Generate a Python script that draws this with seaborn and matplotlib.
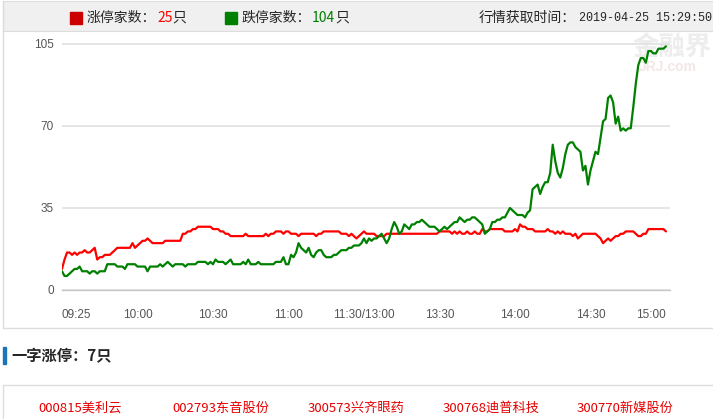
# ==========================================
# 涨跌停家数 intraday chart (screenshot recreation)
# ==========================================

import numpy as np
import pandas as pd
import matplotlib
matplotlib.use("Agg")
import matplotlib.pyplot as plt
import seaborn as sns
from matplotlib.patches import Rectangle

# ==========================================
# Data
# ==========================================

tick_pos = [0, 30, 60, 90, 120, 150, 180, 210, 240]
tick_labels = ["09:25", "10:00", "10:30", "11:00", "11:30/13:00",
               "13:30", "14:00", "14:30", "15:00"]
y_ticks = [0, 35, 70, 105]

# limit-up count, one value per trading minute
limit_up = [
    9, 13, 16, 16, 15, 16, 15, 16, 16, 17,
    16, 16, 17, 18, 13, 14, 14, 15, 15, 15,
    16, 17, 18, 18, 18, 18, 18, 18, 20, 18,
    19, 20, 21, 21, 22, 21, 20, 20, 20, 20,
    20, 21, 21, 21, 21, 21, 21, 21, 24, 24,
    25, 25, 26, 26, 27, 27, 27, 27, 27, 27,
    26, 26, 26, 25, 25, 24, 24, 23, 23, 23,
    23, 23, 23, 24, 23, 23, 23, 23, 23, 23,
    23, 24, 23, 24, 24, 25, 25, 25, 24, 25,
    25, 24, 24, 24, 23, 24, 24, 24, 24, 24,
    24, 23, 24, 24, 25, 25, 25, 25, 25, 25,
    25, 24, 24, 24, 23, 24, 23, 22, 23, 24,
    25, 24, 24, 24, 24, 23, 23, 23, 23, 24,
    24, 24, 24, 24, 24, 24, 24, 24, 24, 24,
    24, 24, 24, 24, 24, 24, 24, 24, 24, 24,
    25, 25, 25, 25, 25, 24, 25, 24, 25, 24,
    24, 25, 24, 24, 25, 24, 24, 26, 25, 25,
    26, 26, 26, 26, 26, 26, 25, 25, 25, 25,
    26, 25, 28, 27, 27, 26, 26, 26, 25, 25,
    25, 25, 25, 26, 25, 25, 24, 25, 24, 25,
    24, 24, 24, 23, 24, 22, 23, 24, 24, 24,
    24, 24, 24, 23, 22, 20, 21, 22, 21, 22,
    23, 23, 24, 24, 25, 25, 25, 25, 24, 23,
    23, 24, 24, 26, 26, 26, 26, 26, 26, 26,
    25,
]

# limit-down count, one value per trading minute
limit_down = [
    8, 6, 6, 7, 8, 9, 9, 10, 8, 8,
    8, 7, 8, 8, 7, 8, 8, 8, 11, 11,
    11, 11, 10, 10, 10, 9, 11, 11, 11, 11,
    10, 10, 10, 10, 8, 10, 10, 10, 10, 11,
    10, 11, 12, 11, 10, 11, 11, 11, 11, 10,
    11, 11, 11, 11, 12, 12, 12, 12, 11, 12,
    11, 13, 12, 12, 12, 11, 12, 13, 11, 11,
    11, 11, 12, 11, 13, 11, 11, 11, 12, 11,
    11, 11, 11, 11, 11, 12, 12, 12, 14, 11,
    11, 15, 14, 16, 20, 18, 17, 16, 18, 15,
    14, 16, 17, 17, 15, 14, 14, 14, 15, 15,
    16, 17, 17, 17, 18, 18, 19, 19, 19, 20,
    22, 20, 22, 21, 22, 22, 23, 24, 22, 20,
    22, 26, 29, 27, 24, 25, 28, 27, 26, 28,
    28, 29, 29, 30, 29, 28, 27, 27, 27, 26,
    25, 26, 27, 26, 27, 28, 29, 29, 31, 30,
    29, 30, 30, 31, 31, 30, 29, 28, 24, 25,
    26, 29, 29, 30, 30, 31, 31, 33, 35, 34,
    33, 32, 32, 32, 31, 33, 34, 43, 44, 45,
    41, 44, 46, 46, 50, 62, 55, 50, 48, 52,
    58, 62, 63, 63, 61, 60, 59, 51, 53, 45,
    51, 55, 59, 58, 65, 72, 73, 82, 83, 80,
    71, 74, 68, 69, 68, 69, 69, 78, 88, 96,
    99, 99, 97, 102, 102, 101, 101, 103, 103, 103,
    104,
]

up_count = 25
down_count = 104
fetch_time = "2019-04-25 15:29:50"
one_word_count = 7
one_word_stocks = ["000815美利云", "002793东音股份", "300573兴齐眼药",
                   "300768迪普科技", "300770新媒股份"]

df = pd.DataFrame({
    "minute": np.arange(len(limit_up)),
    "up": limit_up,
    "down": limit_down,
})

# ==========================================
# Style
# ==========================================

sns.set_style("white")
plt.rcParams["font.family"] = ["Liberation Sans", "Noto Sans CJK SC"]
CJK = ["Noto Sans CJK SC", "DejaVu Sans"]

W, H = 713, 419
fig = plt.figure(figsize=(W / 100, H / 100), dpi=100)

# background axes in pixel coordinates for the page decorations
bg = fig.add_axes([0, 0, 1, 1])
bg.set_xlim(0, W)
bg.set_ylim(H, 0)
bg.axis("off")

# chart container + header bar
bg.add_patch(Rectangle((3, 1), W, 30, facecolor="#f0f0f0",
                       edgecolor="#dcdcdc", lw=0.8))
bg.plot([3, 3], [1, 328], color="#dcdcdc", lw=1)
bg.plot([3, W], [328, 328], color="#dcdcdc", lw=1)

# header legend
bg.add_patch(Rectangle((70, 12), 12, 12, color="#cc0000"))
bg.text(87, 18, "涨停家数：", fontsize=10, va="center", family=CJK)
bg.text(157, 18, str(up_count), fontsize=10, va="center",
        color="#ff0000", family=CJK)
bg.text(172, 18, "只", fontsize=10, va="center", family=CJK)

bg.add_patch(Rectangle((225, 12), 12, 12, color="#008000"))
bg.text(242, 18, "跌停家数：", fontsize=10, va="center", family=CJK)
bg.text(312, 18, str(down_count), fontsize=10, va="center",
        color="#008000", family=CJK)
bg.text(335, 18, "只", fontsize=10, va="center", family=CJK)

bg.text(576, 18, "行情获取时间：", fontsize=10, va="center", ha="right",
        family=CJK)
bg.text(712, 18, fetch_time, fontsize=8.5, va="center", ha="right",
        family=["Liberation Mono"])

# faint watermark
bg.text(672, 48, "金融界", fontsize=19, fontweight="bold", color="#ededed",
        ha="center", va="center", family=CJK)
bg.text(668, 67, "JRJ.com", fontsize=10, fontweight="bold", color="#f5e6e6",
        ha="center", va="center")

# ==========================================
# Line chart
# ==========================================

ax = fig.add_axes([62 / W, (H - 290) / H, 608 / W, 250.7 / H])
ax.patch.set_alpha(0)

sns.lineplot(data=df, x="minute", y="up", color="#ff0000", lw=1.6, ax=ax)
sns.lineplot(data=df, x="minute", y="down", color="#008000", lw=1.6, ax=ax)

ax.set_xlim(0, 241.6)
ax.set_ylim(0, 107)
ax.set_xticks(tick_pos)
ax.set_xticklabels(tick_labels)
ax.set_yticks(y_ticks)
ax.yaxis.grid(True, color="#e0e0e0", lw=1.2)
ax.set_axisbelow(True)
ax.set_xlabel("")
ax.set_ylabel("")

for side in ["top", "right", "left"]:
    ax.spines[side].set_visible(False)
ax.spines["bottom"].set_color("#c8c8c8")
ax.spines["bottom"].set_linewidth(1)

ax.tick_params(axis="y", length=0, pad=5.8, labelsize=8.5, labelcolor="#555555")
ax.tick_params(axis="x", length=4, width=1, color="#c8c8c8", pad=10,
               labelsize=8.5, labelcolor="#555555")

labels = ax.get_xticklabels()
labels[0].set_ha("left")
labels[-1].set_ha("right")

# ==========================================
# 一字涨停 section
# ==========================================

bg.add_patch(Rectangle((3, 347), 3, 17, color="#1a75bb"))
bg.text(11, 356, f"一字涨停：{one_word_count}只", fontsize=11,
        fontweight="bold", va="center", family=CJK)

bg.plot([3, W], [385, 385], color="#dddddd", lw=1)
bg.plot([3, 3], [385, H], color="#dddddd", lw=1)

name_x = [38, 172, 308, 443, 577]
for x, name in zip(name_x, one_word_stocks):
    bg.text(x, 408, name, fontsize=9.5, color="#e60000", va="center",
            family=CJK)

fig.savefig("out.png", dpi=100)
